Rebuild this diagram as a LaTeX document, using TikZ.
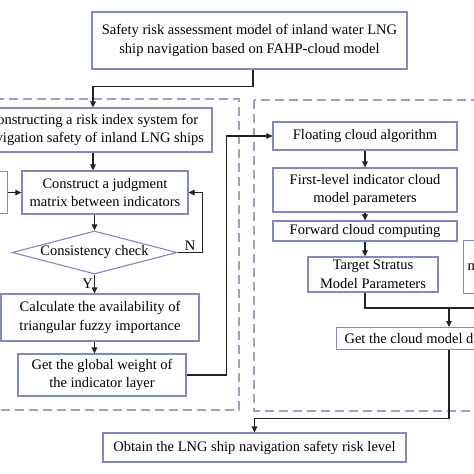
\documentclass[tikz,border=0pt]{standalone}
\usepackage{fontspec}
\setmainfont{Liberation Serif}
\usepackage{tikz}
\usetikzlibrary{calc, positioning, shapes.geometric}
\usetikzlibrary{arrows.meta}
\tikzset{>={Triangle[length=6pt,width=5.5pt]}}
\usepackage{xcolor}
\definecolor{boxblue}{HTML}{8088C6}
\definecolor{frameblue}{HTML}{9AA0D0}
\definecolor{linegray}{HTML}{222222}
\tikzset{
	box/.style={draw=boxblue, line width=1.1pt, inner sep=0pt, align=center, font=\fontsize{14.5}{18.5}\selectfont},
	frame/.style={draw=frameblue, line width=1.1pt, dash pattern=on 9pt off 5pt},
	link/.style={draw=linegray, line width=1.1pt},
	tag/.style={font=\fontsize{14.5}{18.5}\selectfont, inner sep=1pt}
}

\begin{document}
\begin{tikzpicture}[x=1pt,y=-1pt]
			\useasboundingbox (0,0) rectangle (474,474);
			\draw [frame] (-10,99) rectangle (239,410);
			\draw [frame] (254,100) rectangle (490,411);
			\node [box, minimum width=315, minimum height=57] (model) at (249.5,40.5) {Safety risk assessment model of inland water LNG\\ship navigation based on FAHP-cloud model};
			\node [box, minimum width=238, minimum height=44] (risk) at (93,130) {Constructing a risk index system for\\navigation safety of inland LNG ships};
			\node [box, minimum width=166, minimum height=43] (judg) at (105,192.5) {Construct a judgment\\matrix between indicators};
			\node [box, minimum width=40, minimum height=42, anchor=north east] (lbox) at (8,171) {};
			\node [box, diamond, aspect=3.84, minimum width=165, minimum height=43] (check) at (94.5,252.5) {Consistency check};
			\node [box, minimum width=198, minimum height=47] (calc) at (100,317.5) {Calculate the availability of\\triangular fuzzy importance};
			\node [box, minimum width=168, minimum height=42] (glob) at (102,375) {Get the global weight of\\the indicator layer};
			\node [box, minimum width=184, minimum height=28] (float) at (365,136) {Floating cloud algorithm};
			\node [box, minimum width=184, minimum height=44] (first) at (365,190) {First-level indicator cloud\\model parameters};
			\node [box, minimum width=184, minimum height=20] (fwd) at (365,231) {Forward cloud computing};
			\node [box, minimum width=130, minimum height=35] (tgt) at (373,274.5) {Target Stratus\\Model Parameters};
			\node [box, minimum width=60, minimum height=53, anchor=north west] (rbox) at (463,240) {\makebox[52pt][l]{m}};
			\node [box, minimum width=170, minimum height=22, anchor=north west] (cdis) at (336,327) {\makebox[160pt][l]{\hspace{3pt}Get the cloud model d}};
			\node [box, minimum width=303, minimum height=29] (obt) at (254.5,447.5) {Obtain the LNG ship navigation safety risk level};
			\coordinate (join) at (449,308);
			\draw [link,->] ([xshift=3.5pt]model.south) -- ++(0,17) -| (risk.north);
			\draw [link,->] (risk.south) -- (risk.south |- judg.north);
			\draw [link,->] (lbox.east) -- (lbox.east -| judg.west);
			\draw [link,->] (judg.south -| check.north) -- (check.north);
			\draw [link,->] (check.east) -- node [tag, above] {N} ++(25,0) |- (judg.east);
			\draw [link,->] (check.south) -- node [tag, left] {Y} (check.south |- calc.north);
			\draw [link,->] (check.south |- calc.south) -- (check.south |- glob.north);
			\draw [link,->] (glob.east) -- ++(40,0) |- (float.west);
			\draw [link,->] (float.south) -- (first.north);
			\draw [link,->] (first.south) -- (fwd.north);
			\draw [link,->] (fwd.south) -- (fwd.south |- tgt.north);
			\draw [link] (fwd.south |- tgt.south) |- (490,308);
			\draw [link,->] (join) -- (join |- cdis.north);
			\draw [link,->] (join |- cdis.south) -- ++(0,68) -| (obt.north);
		\end{tikzpicture}
\end{document}
